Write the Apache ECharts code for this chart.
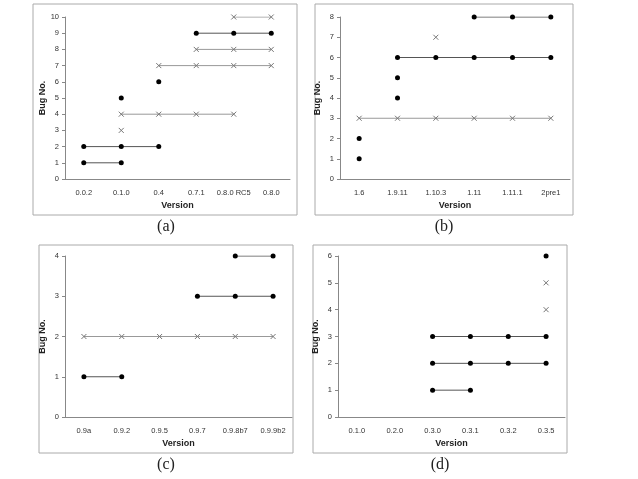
<!DOCTYPE html>
<html><head><meta charset="utf-8">
<script src="https://cdn.jsdelivr.net/npm/echarts@6/dist/echarts.min.js"></script>
<style>html,body{margin:0;padding:0;background:#fff}#c{width:638px;height:479px}</style>
</head><body><div id="c"></div>
<script>
// Categories per panel
const catsA = ['0.0.2','0.1.0','0.4','0.7.1','0.8.0 RC5','0.8.0'];
const catsB = ['1.6','1.9.11','1.10.3','1.11','1.11.1','2pre1'];
const catsC = ['0.9a','0.9.2','0.9.5','0.9.7','0.9.8b7','0.9.9b2'];
const catsD = ['0.1.0','0.2.0','0.3.0','0.3.1','0.3.2','0.3.5'];
// Rows: [bug number, category indices where present]
const dotsA = [[1,[0,1]],[2,[0,1,2]],[5,[1]],[6,[2]],[9,[3,4,5]]];
const crossA = [[3,[1]],[4,[1,2,3,4]],[7,[2,3,4,5]],[8,[3,4,5]],[10,[4,5]]];
const dotsB = [[1,[0]],[2,[0]],[4,[1]],[5,[1]],[6,[1,2,3,4,5]],[8,[3,4,5]]];
const crossB = [[3,[0,1,2,3,4,5]],[7,[2]]];
const dotsC = [[1,[0,1]],[3,[3,4,5]],[4,[4,5]]];
const crossC = [[2,[0,1,2,3,4,5]]];
const dotsD = [[1,[2,3]],[2,[2,3,4,5]],[3,[2,3,4,5]],[6,[5]]];
const crossD = [[4,[5]],[5,[5]]];
const yMax = [10,8,4,6];

const panels = [
 {cats:catsA,dots:dotsA,cross:crossA,grid:{left:65,top:17,width:225,height:162},box:[33,4,264,211],lab:'(a)',lx:166,ly:227},
 {cats:catsB,dots:dotsB,cross:crossB,grid:{left:340,top:17,width:230,height:162},box:[315,4,258,211],lab:'(b)',lx:444,ly:227},
 {cats:catsC,dots:dotsC,cross:crossC,grid:{left:65,top:256,width:227,height:161},box:[39,245,254,208],lab:'(c)',lx:166,ly:465},
 {cats:catsD,dots:dotsD,cross:crossD,grid:{left:338,top:256,width:227,height:161},box:[313,245,254,208],lab:'(d)',lx:440,ly:465}
];
const grid=[],xAxis=[],yAxis=[],series=[],graphic=[];
const lab={fontFamily:'Liberation Sans',fontSize:7.5,color:'#333'};
panels.forEach((p,i)=>{
  grid.push(p.grid);
  xAxis.push({type:'category',gridIndex:i,data:p.cats,boundaryGap:true,name:'Version',nameLocation:'middle',nameGap:22,
    nameTextStyle:{fontFamily:'Liberation Sans',fontSize:9,fontWeight:'bold',color:'#222'},
    axisLine:{lineStyle:{color:'#888'}},axisTick:{show:false},axisLabel:Object.assign({margin:10,interval:0},lab)});
  yAxis.push({type:'value',gridIndex:i,min:0,max:yMax[i],interval:1,name:'Bug No.',nameLocation:'middle',nameGap:18,
    nameTextStyle:{fontFamily:'Liberation Sans',fontSize:9,fontWeight:'bold',color:'#222'},
    splitLine:{show:false},axisLine:{show:true,lineStyle:{color:'#888'}},axisTick:{show:true,length:3,lineStyle:{color:'#888'}},axisLabel:Object.assign({margin:6},lab)});
  p.dots.forEach(r=>series.push({type:'line',xAxisIndex:i,yAxisIndex:i,data:r[1].map(c=>[c,r[0]]),symbol:'circle',symbolSize:5,
    itemStyle:{color:'#000'},lineStyle:{color:'#555',width:1},animation:false,silent:true}));
  p.cross.forEach(r=>series.push({type:'line',xAxisIndex:i,yAxisIndex:i,data:r[1].map(c=>[c,r[0]]),symbol:'path://M0,0L10,10M10,0L0,10',symbolSize:5,
    itemStyle:{color:'none',borderColor:'#777',borderWidth:1},lineStyle:{color:'#999',width:1},animation:false,silent:true}));
  graphic.push({type:'rect',shape:{x:p.box[0],y:p.box[1],width:p.box[2],height:p.box[3]},style:{fill:'none',stroke:'#aaa',lineWidth:1},silent:true});
  graphic.push({type:'text',x:p.lx,y:p.ly,style:{text:p.lab,fontFamily:'Liberation Serif',fontSize:16,fill:'#222',align:'center',verticalAlign:'middle'}});
});
const chart=echarts.init(document.getElementById('c'));
chart.setOption({animation:false,backgroundColor:'#fff',grid,xAxis,yAxis,series,graphic});
</script></body></html>
